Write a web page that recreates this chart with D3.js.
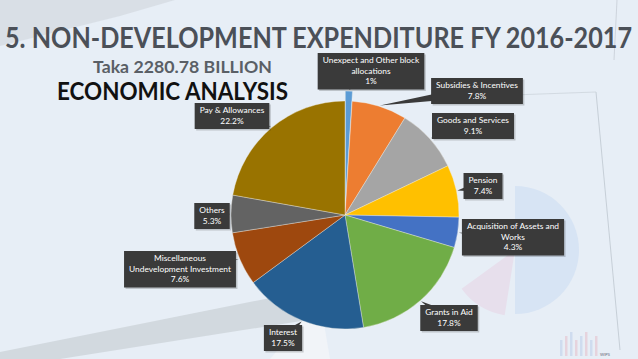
<!DOCTYPE html>
<html>
<head>
<meta charset="utf-8">
<script src="https://cdn.jsdelivr.net/npm/d3@7"></script>
<style>
  html, body { margin: 0; padding: 0; background: #e7eef6; }
  svg { display: block; font-family: Lato, "Open Sans", sans-serif; }
</style>
</head>
<body>
<svg id="chart" width="638" height="359"></svg>
<script>
// Data
const categories = [
  "Unexpect and Other block allocations",
  "Subsidies & Incentives",
  "Goods and Services",
  "Pension",
  "Acquisition of Assets and Works",
  "Grants in Aid",
  "Interest",
  "Miscellaneous Undevelopment Investment",
  "Others",
  "Pay & Allowances"
];
const shares = [1, 7.8, 9.1, 7.4, 4.3, 17.8, 17.5, 7.6, 5.3, 22.2];
const shareLabels = ["1%", "7.8%", "9.1%", "7.4%", "4.3%", "17.8%", "17.5%", "7.6%", "5.3%", "22.2%"];

const palette = ["#5b9bd5", "#ed7d31", "#a5a5a5", "#ffc000", "#4472c4",
                 "#70ad47", "#255e91", "#9e480e", "#636363", "#997300"];

// label box layout: centre x, top y, words on first line
const labelLayout = {
  "Unexpect and Other block allocations": { cx: 371, top: 53, brk: 4 },
  "Subsidies & Incentives": { cx: 477, top: 78 },
  "Goods and Services": { cx: 473, top: 113 },
  "Pension": { cx: 483, top: 173 },
  "Acquisition of Assets and Works": { cx: 513, top: 219, brk: 4 },
  "Grants in Aid": { cx: 449, top: 305 },
  "Interest": { cx: 283, top: 325 },
  "Miscellaneous Undevelopment Investment": { cx: 180, top: 251, brk: 1 },
  "Others": { cx: 212, top: 203 },
  "Pay & Allowances": { cx: 232, top: 103 }
};

const svg = d3.select("#chart");
const W = 638, H = 359;

// faint background picture
const bg = svg.append("g");
bg.append("rect").attr("width", W).attr("height", H).attr("fill", "#e7eef6");
bg.append("path").attr("d", "M0,0 L175,0 L120,16 L0,46 Z").attr("fill", "#d3d9df").attr("opacity", 0.7);
bg.append("path").attr("d", "M0,359 L0,352 L300,292 L320,300 L320,318 L60,359 Z").attr("fill", "#cbd1d7").attr("opacity", 0.75);
bg.append("path").attr("d", "M270,359 L320,300 L330,359 Z").attr("fill", "#f1f4f8");
bg.append("path")
  .attr("transform", "translate(515,250)")
  .attr("d", d3.arc()({ innerRadius: 0, outerRadius: 64, startAngle: 0, endAngle: Math.PI }))
  .attr("fill", "#d7e4f4");
bg.append("path")
  .attr("transform", "translate(515,250)")
  .attr("d", d3.arc()({ innerRadius: 0, outerRadius: 66, startAngle: Math.PI * 1.05, endAngle: Math.PI * 1.3 }))
  .attr("fill", "#e7dfec");
bg.append("line").attr("x1", 596).attr("y1", 92).attr("x2", 620).attr("y2", 350)
  .attr("stroke", "#bec6cf").attr("stroke-width", 0.8);
bg.append("line").attr("x1", 617).attr("y1", 0).attr("x2", 614).attr("y2", 60)
  .attr("stroke", "#c6cdd6").attr("stroke-width", 0.8);
bg.append("line").attr("x1", 430).attr("y1", 98).attr("x2", 596).attr("y2", 92)
  .attr("stroke", "#cdd4dc").attr("stroke-width", 0.8);
[0, 1, 2, 3, 4, 5, 6, 7].forEach(i => {
  bg.append("rect").attr("x", 560 + i * 5).attr("y", 340 - (i % 3) * 4).attr("width", 2.5)
    .attr("height", 16 + (i % 3) * 4).attr("fill", i % 2 ? "#e6d3dd" : "#cfdcef");
});
bg.append("text").attr("x", 600).attr("y", 356).attr("font-size", 4).attr("fill", "#667")
  .text("WIPS");

// titles
svg.append("text")
  .attr("x", 5).attr("y", 48)
  .attr("font-size", 28).attr("font-weight", 700)
  .attr("fill", "#4b5058")
  .attr("textLength", 627).attr("lengthAdjust", "spacingAndGlyphs")
  .text("5. NON-DEVELOPMENT EXPENDITURE FY 2016-2017");
svg.append("text")
  .attr("x", 93).attr("y", 73)
  .attr("font-size", 17).attr("font-weight", 700)
  .attr("fill", "#5a5f66")
  .attr("textLength", 179).attr("lengthAdjust", "spacingAndGlyphs")
  .text("Taka 2280.78 BILLION");
svg.append("text")
  .attr("x", 57).attr("y", 100)
  .attr("font-size", 25).attr("font-weight", 700)
  .attr("fill", "#111")
  .attr("textLength", 231).attr("lengthAdjust", "spacingAndGlyphs")
  .text("ECONOMIC ANALYSIS");

// pie
const cx = 345, cy = 215, radius = 114, explode = 10;
const color = d3.scaleOrdinal(categories, palette);
const pie = d3.pie().sort(null).value((d, i) => shares[i]);
const arcs = pie(categories);
const arc = d3.arc().innerRadius(0).outerRadius(radius);

const gPie = svg.append("g").attr("transform", `translate(${cx},${cy})`);
gPie.selectAll("path")
  .data(arcs)
  .join("path")
  .attr("transform", (d, i) => {
    if (i !== 0) return null;
    const a = (d.startAngle + d.endAngle) / 2;
    return `translate(${explode * Math.sin(a)},${-explode * Math.cos(a)})`;
  })
  .attr("d", arc)
  .attr("fill", d => color(d.data))
  .attr("stroke", "#f4f0e8")
  .attr("stroke-opacity", 0.6)
  .attr("stroke-width", 0.6);

// callout labels
const fontSize = 8.4, lineH = 10.5, padX = 5, padY = 3;
const gLab = svg.append("g");

arcs.forEach((d, i) => {
  const name = d.data;
  const lay = labelLayout[name];
  const words = name.split(" ");
  const lines = lay.brk ? [words.slice(0, lay.brk).join(" "), words.slice(lay.brk).join(" ")] : [name];
  lines.push(shareLabels[i]);

  const g = gLab.append("g");
  const texts = lines.map((t, k) => g.append("text")
    .attr("x", lay.cx)
    .attr("y", lay.top + padY + fontSize + k * lineH - 1)
    .attr("text-anchor", "middle")
    .attr("font-size", fontSize)
    .attr("fill", "#fff")
    .text(t));
  const tw = d3.max(texts, t => t.node().getComputedTextLength());
  const bw = tw + padX * 2, bh = lines.length * lineH + padY * 2 - 1;
  const bx = lay.cx - bw / 2, by = lay.top;

  // pointer toward slice edge
  const a = (d.startAngle + d.endAngle) / 2;
  const rr = radius + (i === 0 ? explode : 0) + 1;
  const tx = cx + rr * Math.sin(a), ty = cy - rr * Math.cos(a);
  const mx = lay.cx, my = by + bh / 2;
  const len = Math.hypot(tx - mx, ty - my);
  const nx = -(ty - my) / len * 6, ny = (tx - mx) / len * 6;
  g.insert("path", "text")
    .attr("d", `M${mx + nx},${my + ny} L${tx},${ty} L${mx - nx},${my - ny} Z`)
    .attr("fill", "#3a3a3a");
  g.insert("rect", "text")
    .attr("x", bx + 1.5).attr("y", by + 1.5)
    .attr("width", bw).attr("height", bh)
    .attr("fill", "#000").attr("opacity", 0.18);
  g.insert("rect", "text")
    .attr("x", bx).attr("y", by)
    .attr("width", bw).attr("height", bh)
    .attr("fill", "#3a3a3a");
});
</script>
</body>
</html>
